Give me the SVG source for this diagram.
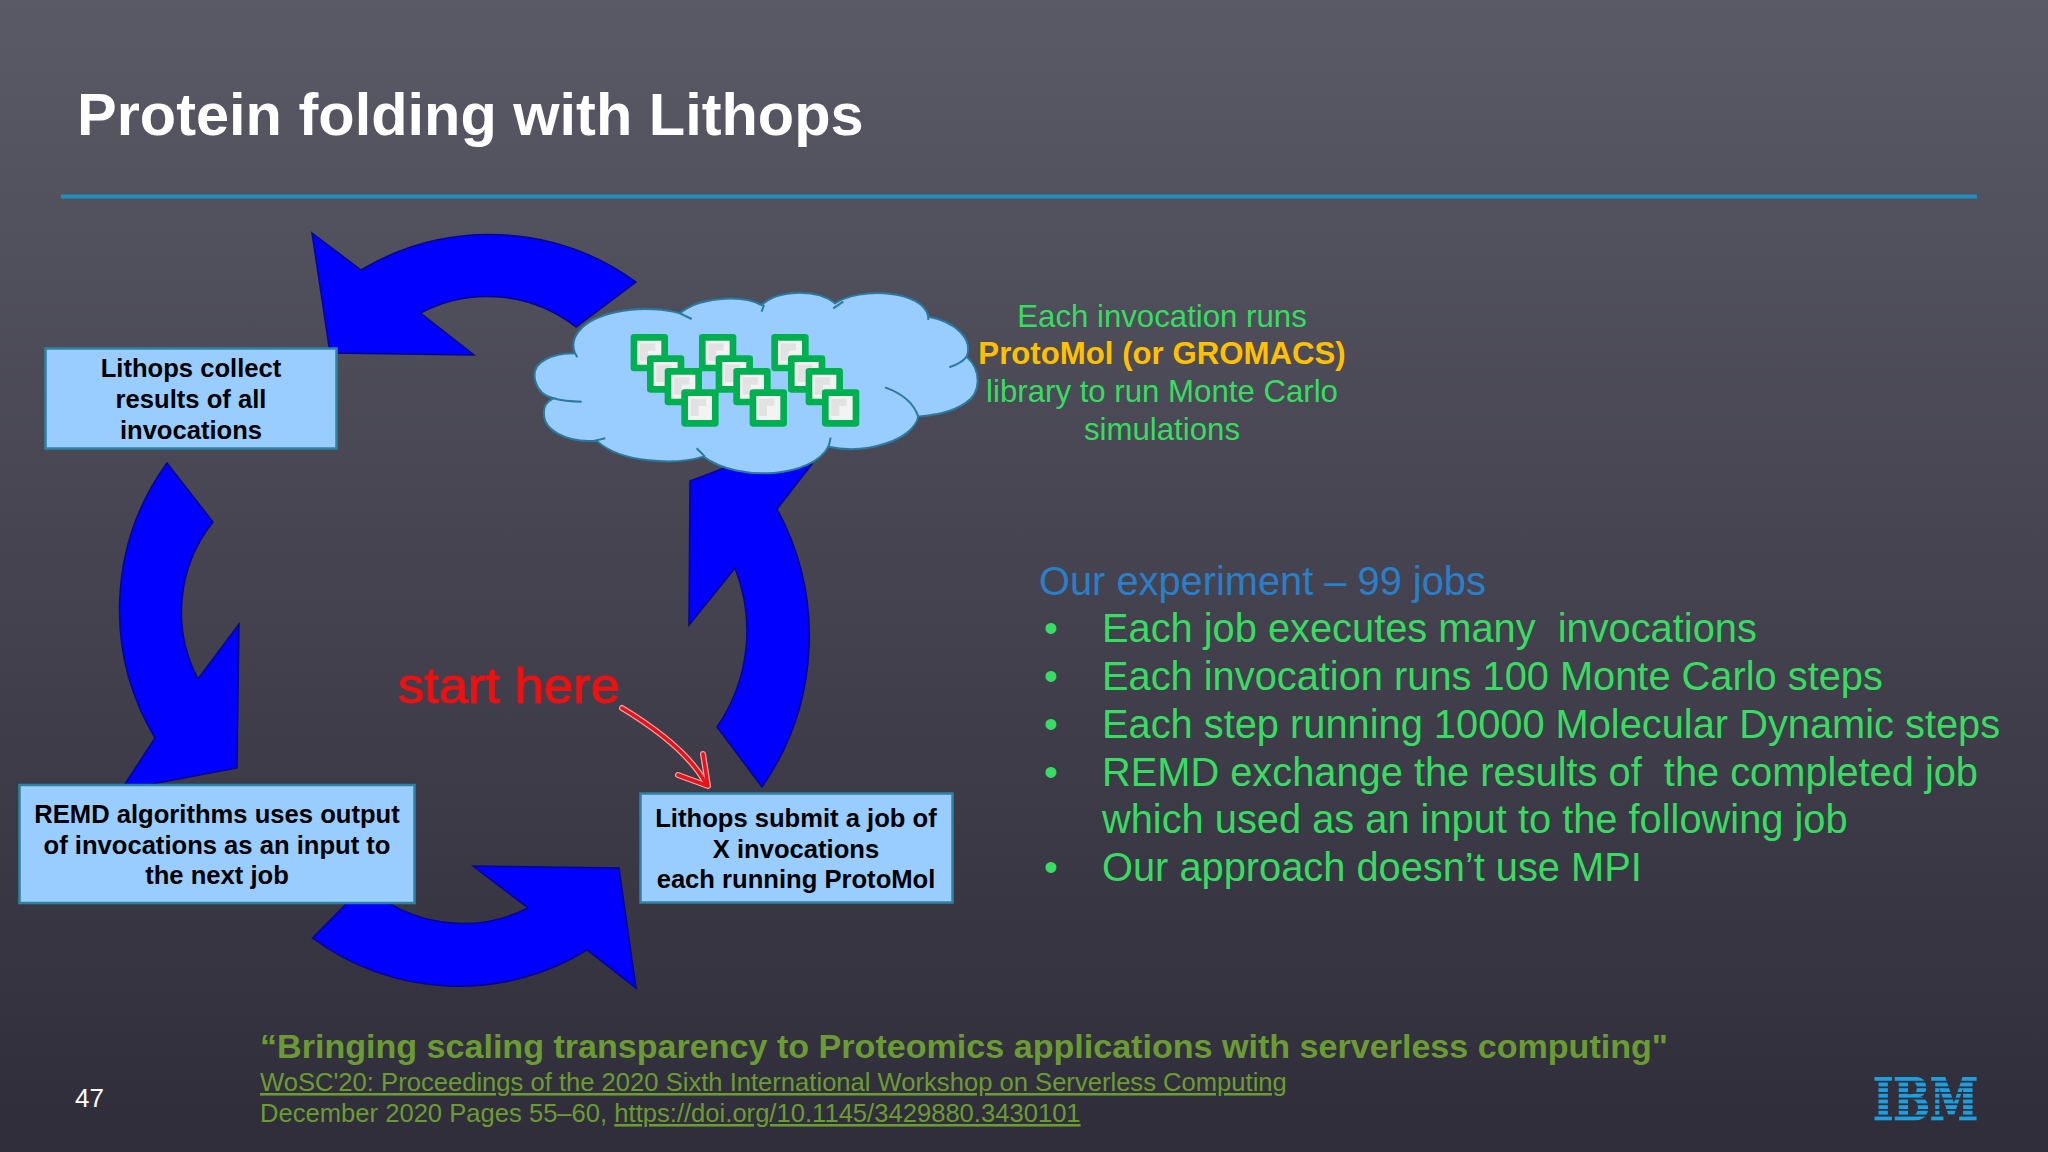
<svg xmlns="http://www.w3.org/2000/svg" width="2048" height="1152" viewBox="0 0 2048 1152">
<style>
text{font-family:"Liberation Sans",Arial,sans-serif}
.box{fill:#99ccff;stroke:#2f82a3;stroke-width:2.500}
.bt{font-size:25.600px;font-weight:bold;fill:#000;text-anchor:middle}
.arr{fill:#0000ff;stroke:#06068a;stroke-width:1.500;stroke-linejoin:miter}
.g1{font-size:31.200px;fill:#38dc60;text-anchor:middle}
.g2{font-size:39.800px;fill:#38dc60}
.cit{font-size:25.600px;fill:#6b9c33}
.cl{fill:none;stroke:#2b7a9e;stroke-width:6}
.sq{fill:#f3f3f3;stroke:#00b050;stroke-width:20;stroke-linejoin:round}
.sh{fill:#e2e2e2}
</style>
<defs>
<linearGradient id="bg" x1="0" y1="0" x2="0" y2="1"><stop offset="0" stop-color="#5a5966"/><stop offset="1" stop-color="#302d3a"/></linearGradient>
<g id="doc"><rect class="sq" x="10" y="10" width="92" height="92"/><path class="sh" d="M28 28h46v22h-22v30h-24z"/></g>
<mask id="stripes" maskUnits="userSpaceOnUse" x="1860" y="1070" width="130" height="60">
<g fill="#fff"><rect x="1860" y="1077" width="130" height="3.800"/><rect x="1860" y="1082.600" width="130" height="3.800"/><rect x="1860" y="1088.200" width="130" height="3.800"/><rect x="1860" y="1093.800" width="130" height="3.800"/><rect x="1860" y="1099.600" width="130" height="3.800"/><rect x="1860" y="1105.200" width="130" height="3.800"/><rect x="1860" y="1110.800" width="130" height="3.800"/><rect x="1860" y="1116.600" width="130" height="3.800"/></g>
</mask>
</defs>
<rect width="2048" height="1152" fill="url(#bg)"/>
<text id="title" x="77" y="135" font-size="59.500" font-weight="bold" fill="#fff">Protein folding with Lithops</text>
<line x1="61" y1="196.500" x2="1977" y2="196.500" stroke="#1f8fbe" stroke-width="4"/>
<g id="connectors">
<path class="arr" d="M312 233L361 270A250 250 0 0 1 636 282L576 327A144 144 0 0 0 420.500 313L474 355L330 353Z"/>
<path class="arr" d="M167 463L213 522A144 144 0 0 0 198 679L239 624L237 768L121 790L155 738A250 250 0 0 1 167 463Z"/>
<path class="arr" d="M312.500 938L365 885A144 144 0 0 0 528 908L473 866L619 868L636 988L587 950A245 245 0 0 1 312.500 938Z"/>
<path class="arr" d="M812 464L777 509A265 265 0 0 1 762 787L717 727A170 170 0 0 0 735 568L689 625L690 481L735 464L800 450Z"/>
<path d="M622 708C655 728 690 755 705 782" fill="none" stroke="#f3a6a6" stroke-width="6" stroke-linecap="round"/>
<path d="M703 754L708 786L678 775" fill="none" stroke="#f3a6a6" stroke-width="6" stroke-linecap="round" stroke-linejoin="round"/>
<path d="M622 708C655 728 690 755 705 782" fill="none" stroke="#e8121a" stroke-width="3.500" stroke-linecap="round"/>
<path d="M703 754L708 786L678 775" fill="none" stroke="#e8121a" stroke-width="3.500" stroke-linecap="round" stroke-linejoin="round"/>
</g>
<g id="node-collect"><rect class="box" x="45.500" y="348.500" width="291" height="100"/>
<text class="bt" x="191" y="377">Lithops collect</text><text class="bt" x="191" y="408">results of all</text><text class="bt" x="191" y="439">invocations</text></g>
<g id="node-remd"><rect class="box" x="19.500" y="785" width="395" height="118"/>
<text class="bt" x="217" y="823">REMD algorithms uses output</text><text class="bt" x="217" y="854">of invocations as an input to</text><text class="bt" x="217" y="884">the next job</text></g>
<g id="node-submit"><rect class="box" x="640.500" y="793.500" width="312" height="109"/>
<text class="bt" x="796" y="827">Lithops submit a job of</text><text class="bt" x="796" y="858">X invocations</text><text class="bt" x="796" y="888">each running ProtoMol</text></g>
<g id="node-cloud" transform="translate(500 270) scale(0.3333)">
<path fill="#99ccff" stroke="#2b7a9e" stroke-width="6" d="M225 250C205 200 250 140 370 122C430 112 500 118 540 130C590 85 720 70 785 105C830 60 950 55 1005 100C1080 50 1270 60 1285 140C1370 155 1420 210 1400 260C1445 300 1445 370 1395 400C1350 430 1300 435 1255 440C1240 510 1100 555 985 530C940 620 720 640 610 560C530 585 360 580 290 512C200 520 130 480 132 430C130 410 140 395 160 385C100 370 90 300 120 280C150 255 190 250 225 250Z"/>
<path class="cl" d="M225 250L232 262M575 147L540 130M785 125L792 105M1000 115L1030 95M1285 150L1285 135M1348 292Q1385 280 1400 260M1155 352Q1235 380 1255 440M992 503L985 535M590 535L615 560M316 505L285 512M245 395Q195 395 160 385"/>
<use href="#doc" x="392" y="192"/><use href="#doc" x="441" y="256"/><use href="#doc" x="494" y="294"/><use href="#doc" x="544" y="358"/>
<use href="#doc" x="597" y="192"/><use href="#doc" x="647" y="256"/><use href="#doc" x="700" y="294"/><use href="#doc" x="749" y="358"/>
<use href="#doc" x="814" y="192"/><use href="#doc" x="864" y="256"/><use href="#doc" x="917" y="294"/><use href="#doc" x="966" y="358"/>
</g>
<g id="cloud-note">
<text class="g1" x="1162" y="327">Each invocation runs</text>
<text class="g1" x="1162" y="364" style="fill:#ffc000;font-weight:bold">ProtoMol (or GROMACS)</text>
<text class="g1" x="1162" y="402">library to run Monte Carlo</text>
<text class="g1" x="1162" y="440">simulations</text>
</g>
<text id="start" x="398" y="703" font-size="50" fill="#ee1111" stroke="#ee1111" stroke-width="1" textLength="222" lengthAdjust="spacingAndGlyphs" style="font-family:'Liberation Sans Narrow','Liberation Sans',sans-serif">start here</text>
<g id="experiment">
<text x="1039" y="595" font-size="39.800" fill="#2a7fc9">Our experiment – 99 jobs</text>
<g class="g2">
<text class="g2" x="1044" y="642">•</text><text class="g2" x="1102" y="642" xml:space="preserve">Each job executes many  invocations</text>
<text class="g2" x="1044" y="690">•</text><text class="g2" x="1102" y="690">Each invocation runs 100 Monte Carlo steps</text>
<text class="g2" x="1044" y="738">•</text><text class="g2" x="1102" y="738">Each step running 10000 Molecular Dynamic steps</text>
<text class="g2" x="1044" y="786">•</text><text class="g2" x="1102" y="786" xml:space="preserve">REMD exchange the results of  the completed job</text>
<text class="g2" x="1102" y="833">which used as an input to the following job</text>
<text class="g2" x="1044" y="881">•</text><text class="g2" x="1102" y="881">Our approach doesn’t use MPI</text>
</g></g>
<g id="citation">
<text x="260" y="1058" font-size="34.100" font-weight="bold" fill="#6b9c33">“Bringing scaling transparency to Proteomics applications with serverless computing"</text>
<text class="cit" x="260" y="1091" text-decoration="underline">WoSC'20: Proceedings of the 2020 Sixth International Workshop on Serverless Computing</text>
<text class="cit" x="260" y="1122">December 2020 Pages 55–60, <tspan text-decoration="underline">https://doi.org/10.1145/3429880.3430101</tspan></text>
</g>
<text id="page" x="75" y="1107" font-size="26" fill="#fff">47</text>
<text id="logo" x="1873" y="1120" font-size="58" font-weight="bold" fill="#1ba1e2" stroke="#1ba1e2" stroke-width="1.500" textLength="105" lengthAdjust="spacingAndGlyphs" mask="url(#stripes)" style="font-family:'DejaVu Serif',serif">IBM</text>
</svg>
